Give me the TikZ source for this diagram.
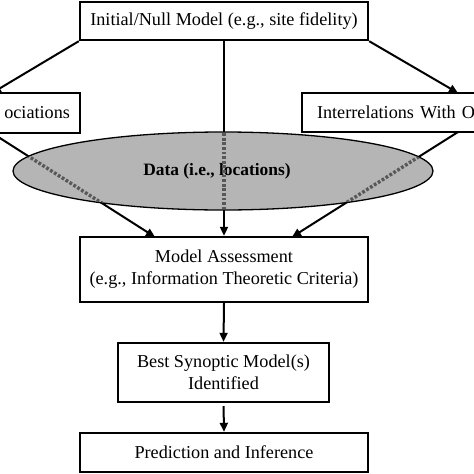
\documentclass[tikz,border=0pt]{standalone}
\usepackage{fontspec}
\setmainfont{Liberation Serif}
\usetikzlibrary{shapes.geometric,arrows.meta}
\definecolor{ellgray}{RGB}{181,181,181}
\definecolor{dotgray}{RGB}{88,88,88}
\tikzset{
  box/.style={draw, line width=2.4pt, rectangle, inner sep=0pt, align=center,
    font=\fontsize{18.2}{22}\selectfont},
  conn/.style={line width=2pt, -{Triangle[length=9pt,width=8pt]}},
  dotline/.style={draw=dotgray, line width=3.4pt, dash pattern=on 2.8pt off 1.8pt},
  dataell/.style={ellipse, draw, line width=1.3pt, fill=ellgray, inner sep=0pt,
    minimum width=420pt, minimum height=78pt, font=\fontsize{17.4}{21}\selectfont\bfseries}
}
\begin{document}
\begin{tikzpicture}[x=1pt,y=-1pt]
\useasboundingbox (0,0) rectangle (474,474);
\fill[white] (0,0) rectangle (474,474);
% boxes
\node[box, minimum width=288pt, minimum height=38pt] (top) at (224,21) {Initial/Null Model (e.g., site fidelity)};
\node[box, minimum width=280pt, minimum height=40pt, text width=260pt, align=right] (assoc) at (-60,113) {ociations};
\node[box, minimum width=258pt, minimum height=39pt, text width=228pt, align=left] (inter) at (431,112.5) {Interrelations With O};
\node[box, minimum width=288pt, minimum height=65pt] (assess) at (224,269.5) {Model Assessment\\(e.g., Information Theoretic Criteria)};
\node[box, minimum width=211pt, minimum height=59pt] (best) at (223.5,372.5) {Best Synoptic Model(s)\\Identified};
\node[box, minimum width=288pt, minimum height=39pt] (pred) at (224,452.5) {Prediction and Inference};
% connector end points
\coordinate (lt) at (-8,93);
\coordinate (rt) at (458,93);
\coordinate (lb) at (-8,133);
\coordinate (rb) at (458,132);
\coordinate (a1) at (155,237);
\coordinate (a3) at (292,237);
% connectors
\draw[conn] (top.south west) -- (lt);
\draw[conn] (top.south east) -- (rt);
\draw[conn] (top.south) -- (assess.north);
\draw[conn] (lb) -- (a1);
\draw[conn] (rb) -- (a3);
\draw[conn] (assess.south) -- (best.north);
\draw[conn, shorten <=3pt] (best.south) -- (pred.north);
% data ellipse
\node[dataell] (data) at (223,171) {\hspace*{-12pt}\raisebox{-4pt}{Data (i.e., locations)}};
\begin{scope}
  \clip (223,171) ellipse [x radius=209.4pt, y radius=38.4pt];
  \draw[dotline] (lb) -- (a1);
  \draw[dotline] (rb) -- (a3);
  \draw[dotline] (top.south) -- (assess.north);
\end{scope}
\end{tikzpicture}
\end{document}
